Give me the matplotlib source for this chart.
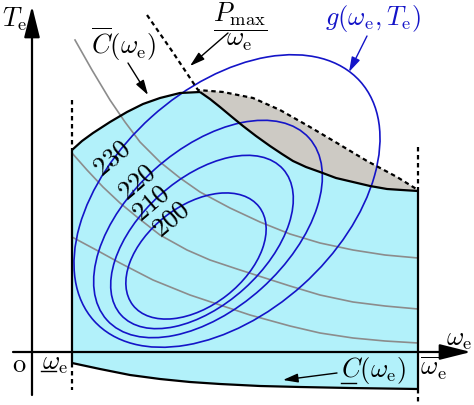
import numpy as np
import matplotlib.pyplot as plt
from matplotlib.patches import Ellipse

plt.rcParams['mathtext.fontset'] = 'cm'
plt.rcParams['font.family'] = 'serif'
plt.rcParams['font.serif'] = ['DejaVu Serif']

# boundary traces (pixel coords of the sketch, y grows downward)
upper_x = [72, 82, 93, 110, 127, 143, 160, 180, 200]
upper_y = [150, 141, 133, 122, 112, 104, 98, 93, 92]

drop_x = [200, 210, 220, 232, 243, 256, 270, 282, 293, 306, 320, 336, 353, 370, 387, 402, 418]
drop_y = [92, 99, 107, 117, 126, 136, 146, 154, 161, 167, 172, 178, 182, 186, 189, 190, 191]

pmax_x = [147, 172, 198, 223, 253, 280, 310, 337, 367, 397, 418]
pmax_y = [15, 51, 90, 92, 98, 110, 127, 143, 161, 177, 190]

lower_x = [72, 100, 130, 160, 190, 220, 260, 300, 350, 418]
lower_y = [363, 369, 375, 379, 382, 384, 386, 387, 388, 389]

w_min, w_max = 72, 418
w_axis_y = 352
t_axis_x = 32

# grey iso-lines
grey1_x = [75, 92, 110, 125, 140, 160, 180, 200, 230, 260, 290, 320, 353, 385, 418]
grey1_y = [40, 70, 100, 122, 142, 162, 178, 192, 208, 222, 234, 243, 250, 255, 258]
grey2_x = [72, 87, 103, 120, 137, 160, 187, 210, 237, 265, 290, 320, 353, 385, 418]
grey2_y = [153, 170, 187, 203, 217, 235, 250, 260, 269, 278, 286, 295, 302, 306, 309]
grey3_x = [72, 100, 120, 153, 190, 220, 250, 290, 320, 353, 385, 418]
grey3_y = [237, 252, 263, 280, 295, 305, 315, 326, 333, 338, 341, 343]

# blue contours of g: level, centre, width, height, tilt
levels = ['200', '210', '220', '230']
ell_cx = [196, 202, 208, 227]
ell_cy = [256, 242, 229, 201]
ell_w = [160, 218, 272, 358]
ell_h = [100, 126, 160, 226]
ell_ang = [38, 42, 42, 42]
lab_x = [171, 151, 137, 112]
lab_y = [219, 203, 182, 158]

fig = plt.figure(figsize=(4.74, 4.05), dpi=100)
ax = fig.add_axes([0, 0, 1, 1])
ax.set_xlim(0, 474)
ax.set_ylim(405, 0)
ax.axis('off')

cyan = '#b2f1fa'
blue = '#1414c8'
greyfill = '#cdcac4'
greyline = '#8c8c8c'

# feasible region
reg_x = [w_min] + upper_x + drop_x[1:] + [w_max] + lower_x[::-1]
reg_y = [lower_y[0]] + upper_y + drop_y[1:] + [lower_y[-1]] + lower_y[::-1]
ax.fill(reg_x, reg_y, color=cyan, lw=0, zorder=1)

# grey area between the power limit and the torque limit
gx = pmax_x[2:] + drop_x[::-1]
gy = pmax_y[2:] + drop_y[::-1]
ax.fill(gx, gy, color=greyfill, lw=0, zorder=1)

for xs, ys in [(grey1_x, grey1_y), (grey2_x, grey2_y), (grey3_x, grey3_y)]:
    ax.plot(xs, ys, color=greyline, lw=1.2, zorder=2)

for i in range(len(levels)):
    e = Ellipse((ell_cx[i], ell_cy[i]), ell_w[i], ell_h[i], angle=-ell_ang[i],
                fill=False, ec=blue, lw=1.2, zorder=3)
    ax.add_patch(e)
    ax.text(lab_x[i], lab_y[i], r'$\mathrm{%s}$' % levels[i], rotation=41,
            rotation_mode='anchor', ha='center', va='center', fontsize=19,
            zorder=5)

k = dict(color='k', lw=1.6, zorder=4, solid_capstyle='butt')
d = dict(color='k', lw=1.6, ls=(0, (2, 1.6)), zorder=4)
ax.plot(upper_x, upper_y, **k)
ax.plot(drop_x, drop_y, **k)
ax.plot(lower_x, lower_y, **k)
ax.plot(pmax_x, pmax_y, **d)
ax.plot([w_min, w_min], [upper_y[0], lower_y[0]], **k)
ax.plot([w_max, w_max], [drop_y[-1], lower_y[-1]], **k)
ax.plot([w_min, w_min], [100, upper_y[0]], **d)
ax.plot([w_min, w_min], [lower_y[0], 390], **d)
ax.plot([w_max, w_max], [147, drop_y[-1]], **d)
ax.plot([w_max, w_max], [lower_y[-1], 403], **d)

# axes with arrows
ax.annotate('', xy=(t_axis_x, 6), xytext=(t_axis_x, 395),
            arrowprops=dict(arrowstyle='-|>,head_length=1.2,head_width=0.3',
                            mutation_scale=16, color='k', lw=1.6,
                            shrinkA=0, shrinkB=0), zorder=6)
ax.annotate('', xy=(471, w_axis_y), xytext=(13, w_axis_y),
            arrowprops=dict(arrowstyle='-|>,head_length=1.2,head_width=0.3',
                            mutation_scale=16, color='k', lw=1.6,
                            shrinkA=0, shrinkB=0), zorder=6)

fs = 19
ax.text(15, 19, r'$T_\mathrm{e}$', fontsize=fs, ha='center', va='center')
ax.text(459, 339, r'$\omega_\mathrm{e}$', fontsize=fs, ha='center', va='center')
ax.text(19, 364, r'$\mathrm{o}$', fontsize=fs, ha='center', va='center')
ax.text(55, 364, r'$\omega_\mathrm{e}$', fontsize=fs, ha='center', va='center')
ax.plot([41, 56], [371, 371], color='k', lw=1)
ax.text(434, 368, r'$\overline{\omega}_\mathrm{e}$', fontsize=fs, ha='center', va='center')
ax.text(124, 44, r'$\overline{C}(\omega_\mathrm{e})$', fontsize=fs, ha='center', va='center')
ax.text(240, 27, r'$\dfrac{P_\mathrm{max}}{\omega_\mathrm{e}}$', fontsize=fs,
        ha='center', va='center')
ax.text(373, 19, r'$g(\omega_\mathrm{e},T_\mathrm{e})$', fontsize=fs, color=blue,
        ha='center', va='center')
ax.text(374, 371, r'$C(\omega_\mathrm{e})$', fontsize=fs, ha='center', va='center')
ax.plot([341, 356], [383, 383], color='k', lw=1)

arr = dict(arrowstyle='-|>,head_length=1.0,head_width=0.3', mutation_scale=9,
           lw=1, shrinkA=0, shrinkB=0)
ax.annotate('', xy=(148, 95), xytext=(128, 63), arrowprops=dict(color='k', **arr))
ax.annotate('', xy=(190, 66), xytext=(228, 33), arrowprops=dict(color='k', **arr))
ax.annotate('', xy=(349, 72), xytext=(367, 36), arrowprops=dict(color=blue, **arr))
ax.annotate('', xy=(283, 380), xytext=(337, 373), arrowprops=dict(color='k', **arr))

fig.savefig('out.png', dpi=100)
